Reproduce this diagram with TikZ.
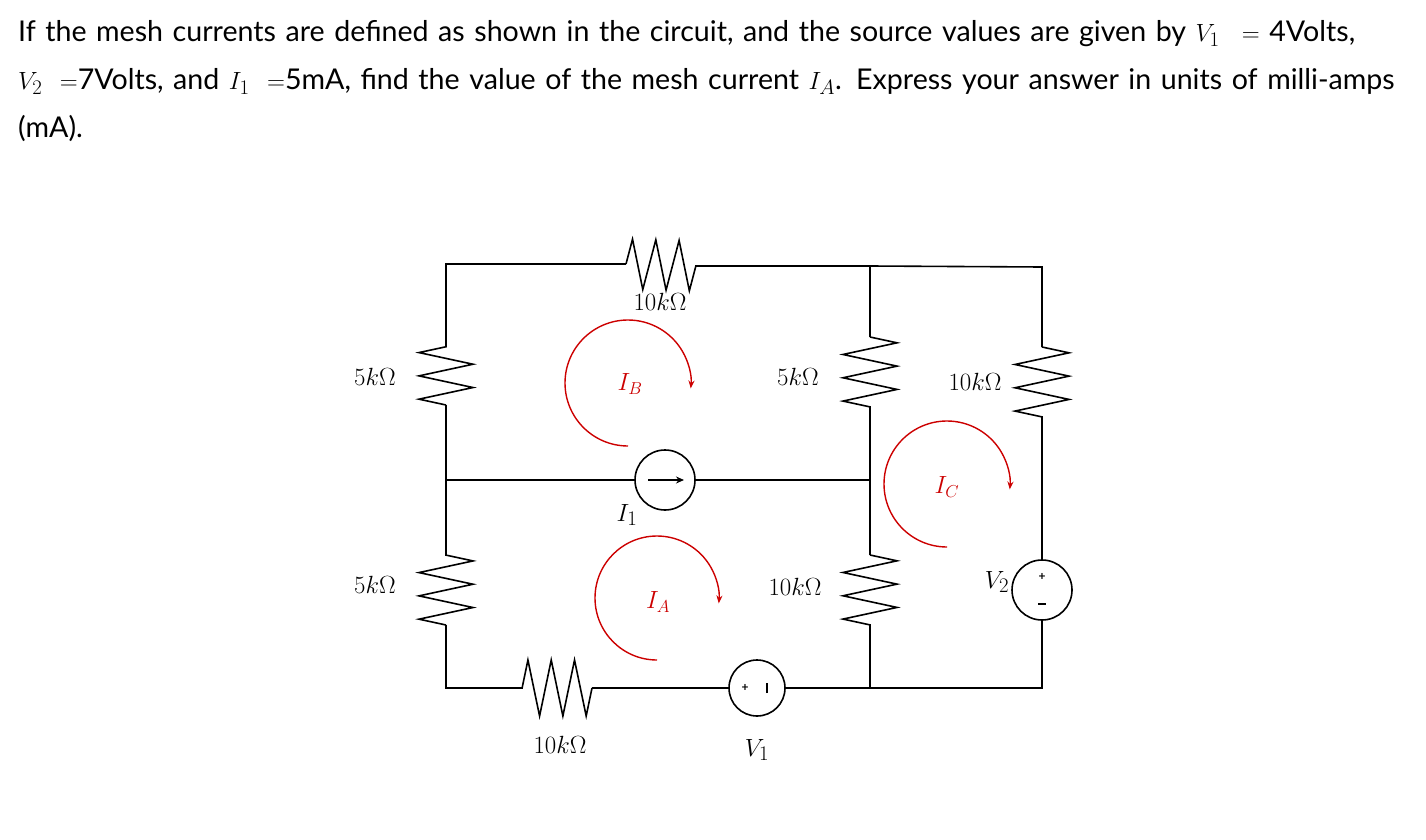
\documentclass[tikz,border=0pt]{standalone}
\usepackage{fontspec}
\setmainfont{Lato}
\usetikzlibrary{decorations.pathmorphing,arrows.meta}
\begin{document}
\begin{tikzpicture}[x=1pt,y=-1pt,
  wire/.style={line width=1.6pt,black},
  res/.style={line width=1.6pt,decorate,decoration={zigzag,amplitude=27pt,segment length=23.3pt}},
  src/.style={circle,draw,line width=1.6pt,minimum size=#1,inner sep=0pt},
  lab/.style={font=\fontsize{29}{29}\selectfont},
  mesh/.style={red!80!black,line width=1.4pt,-{Stealth[length=8pt,width=6pt]}},
  mlab/.style={red!80!black,font=\fontsize{23}{23}\selectfont}]
\useasboundingbox (0,0) rectangle (1426,840);
\node[anchor=north west,text width=1385pt,align=left,inner sep=0pt,
  font=\fontsize{28.6}{48}\selectfont] (q) at (18,20)
 {If the mesh currents are defined as shown in the circuit, and the source values are given by $\mathsurround=0pt V_1\ =$ 4Volts, $V_2\ =$7Volts, and $I_1\ =$5mA, find the value of the mesh current $I_A$. Express your answer in units of milli-amps (mA).};
% junctions
\coordinate (tl) at (446,264);
\coordinate (rt1) at (626,264);
\coordinate (rt2) at (698,266);
\coordinate (tm) at (870,266);
\coordinate (tr) at (1042,267);
\coordinate (l1a) at (446,337);
\coordinate (l1b) at (446,405);
\coordinate (ml) at (446,480);
\coordinate (l2a) at (446,555);
\coordinate (l2b) at (446,625);
\coordinate (bl) at (446,688);
\coordinate (rb1) at (520,688);
\coordinate (rb2) at (592,688);
\coordinate (mm) at (870,480);
\coordinate (m1a) at (870,337);
\coordinate (m1b) at (870,407);
\coordinate (m2a) at (870,555);
\coordinate (m2b) at (870,625);
\coordinate (bm) at (870,688);
\coordinate (r1a) at (1042,347);
\coordinate (r1b) at (1042,417);
\coordinate (br) at (1042,688);
\node[src=60pt] (I1) at (665,480) {};
\node[src=56pt] (V1) at (757,688) {};
\node[src=60pt] (V2) at (1042,590) {};
% wires
\draw[wire] (l1a) -- (tl) -- (rt1);
\draw[res,decoration={amplitude=25pt}] (rt1) -- (rt2);
\draw[wire] (rt2) -- (tm) -- (tr) -- (r1a);
\draw[res] (r1a) -- (r1b);
\draw[wire] (r1b) -- (V2);
\draw[wire] (V2) -- (br) -- (bm) -- (V1);
\draw[wire] (V1) -- (rb2);
\draw[res,decoration={amplitude=28pt}] (rb2) -- (rb1);
\draw[wire] (rb1) -- (bl) -- (l2b);
\draw[res] (l2b) -- (l2a);
\draw[wire] (l2a) -- (ml) -- (l1b);
\draw[res] (l1b) -- (l1a);
\draw[wire] (ml) -- (I1) -- (mm);
\draw[wire] (tm) -- (m1a);
\draw[res] (m1a) -- (m1b);
\draw[wire] (m1b) -- (mm) -- (m2a);
\draw[res] (m2a) -- (m2b);
\draw[wire] (m2b) -- (bm);
% source symbols
\draw[line width=1.5pt,-{Stealth[length=8pt,width=7pt]}] ([xshift=-17pt]I1.center) -- ([xshift=19pt]I1.center);
\node[font=\bfseries\fontsize{12}{12}\selectfont] at ([xshift=-12pt]V1.center) {+};
\draw[line width=1.3pt] ([xshift=10pt,yshift=-5pt]V1.center) -- ([xshift=10pt,yshift=5pt]V1.center);
\node[font=\bfseries\fontsize{12}{12}\selectfont] at ([yshift=13pt]V2.center) {+};
\draw[line width=1.3pt] ([xshift=-4pt,yshift=-14pt]V2.center) -- ([xshift=4pt,yshift=-14pt]V2.center);
% labels
\node[lab] (lt) at (660,302) {$10k\Omega$};
\node[lab] (ll1) at (375,377) {$5k\Omega$};
\node[lab] (ll2) at (375,585) {$5k\Omega$};
\node[lab] (lm1) at (798,377) {$5k\Omega$};
\node[lab] (lr1) at (975,382) {$10k\Omega$};
\node[lab] (lm2) at (795,587) {$10k\Omega$};
\node[lab] (lb) at (560,745) {$10k\Omega$};
\node[lab] (lV1) at (757,750) {$V_1$};
\node[lab] (lV2) at (997,582) {$V_2$};
\node[lab] (lI1) at (627,515) {$I_1$};
% mesh currents
\draw[mesh] (628,446) arc[start angle=90,end angle=365,radius=63];
\node[mlab] (IB) at (630,384) {$I_B$};
\draw[mesh] (657,660) arc[start angle=90,end angle=365,radius=62];
\node[mlab] (IA) at (658,602) {$I_A$};
\draw[mesh] (947,547) arc[start angle=90,end angle=365,radius=63];
\node[mlab] (IC) at (947,487) {$I_C$};
\end{tikzpicture}
\end{document}
